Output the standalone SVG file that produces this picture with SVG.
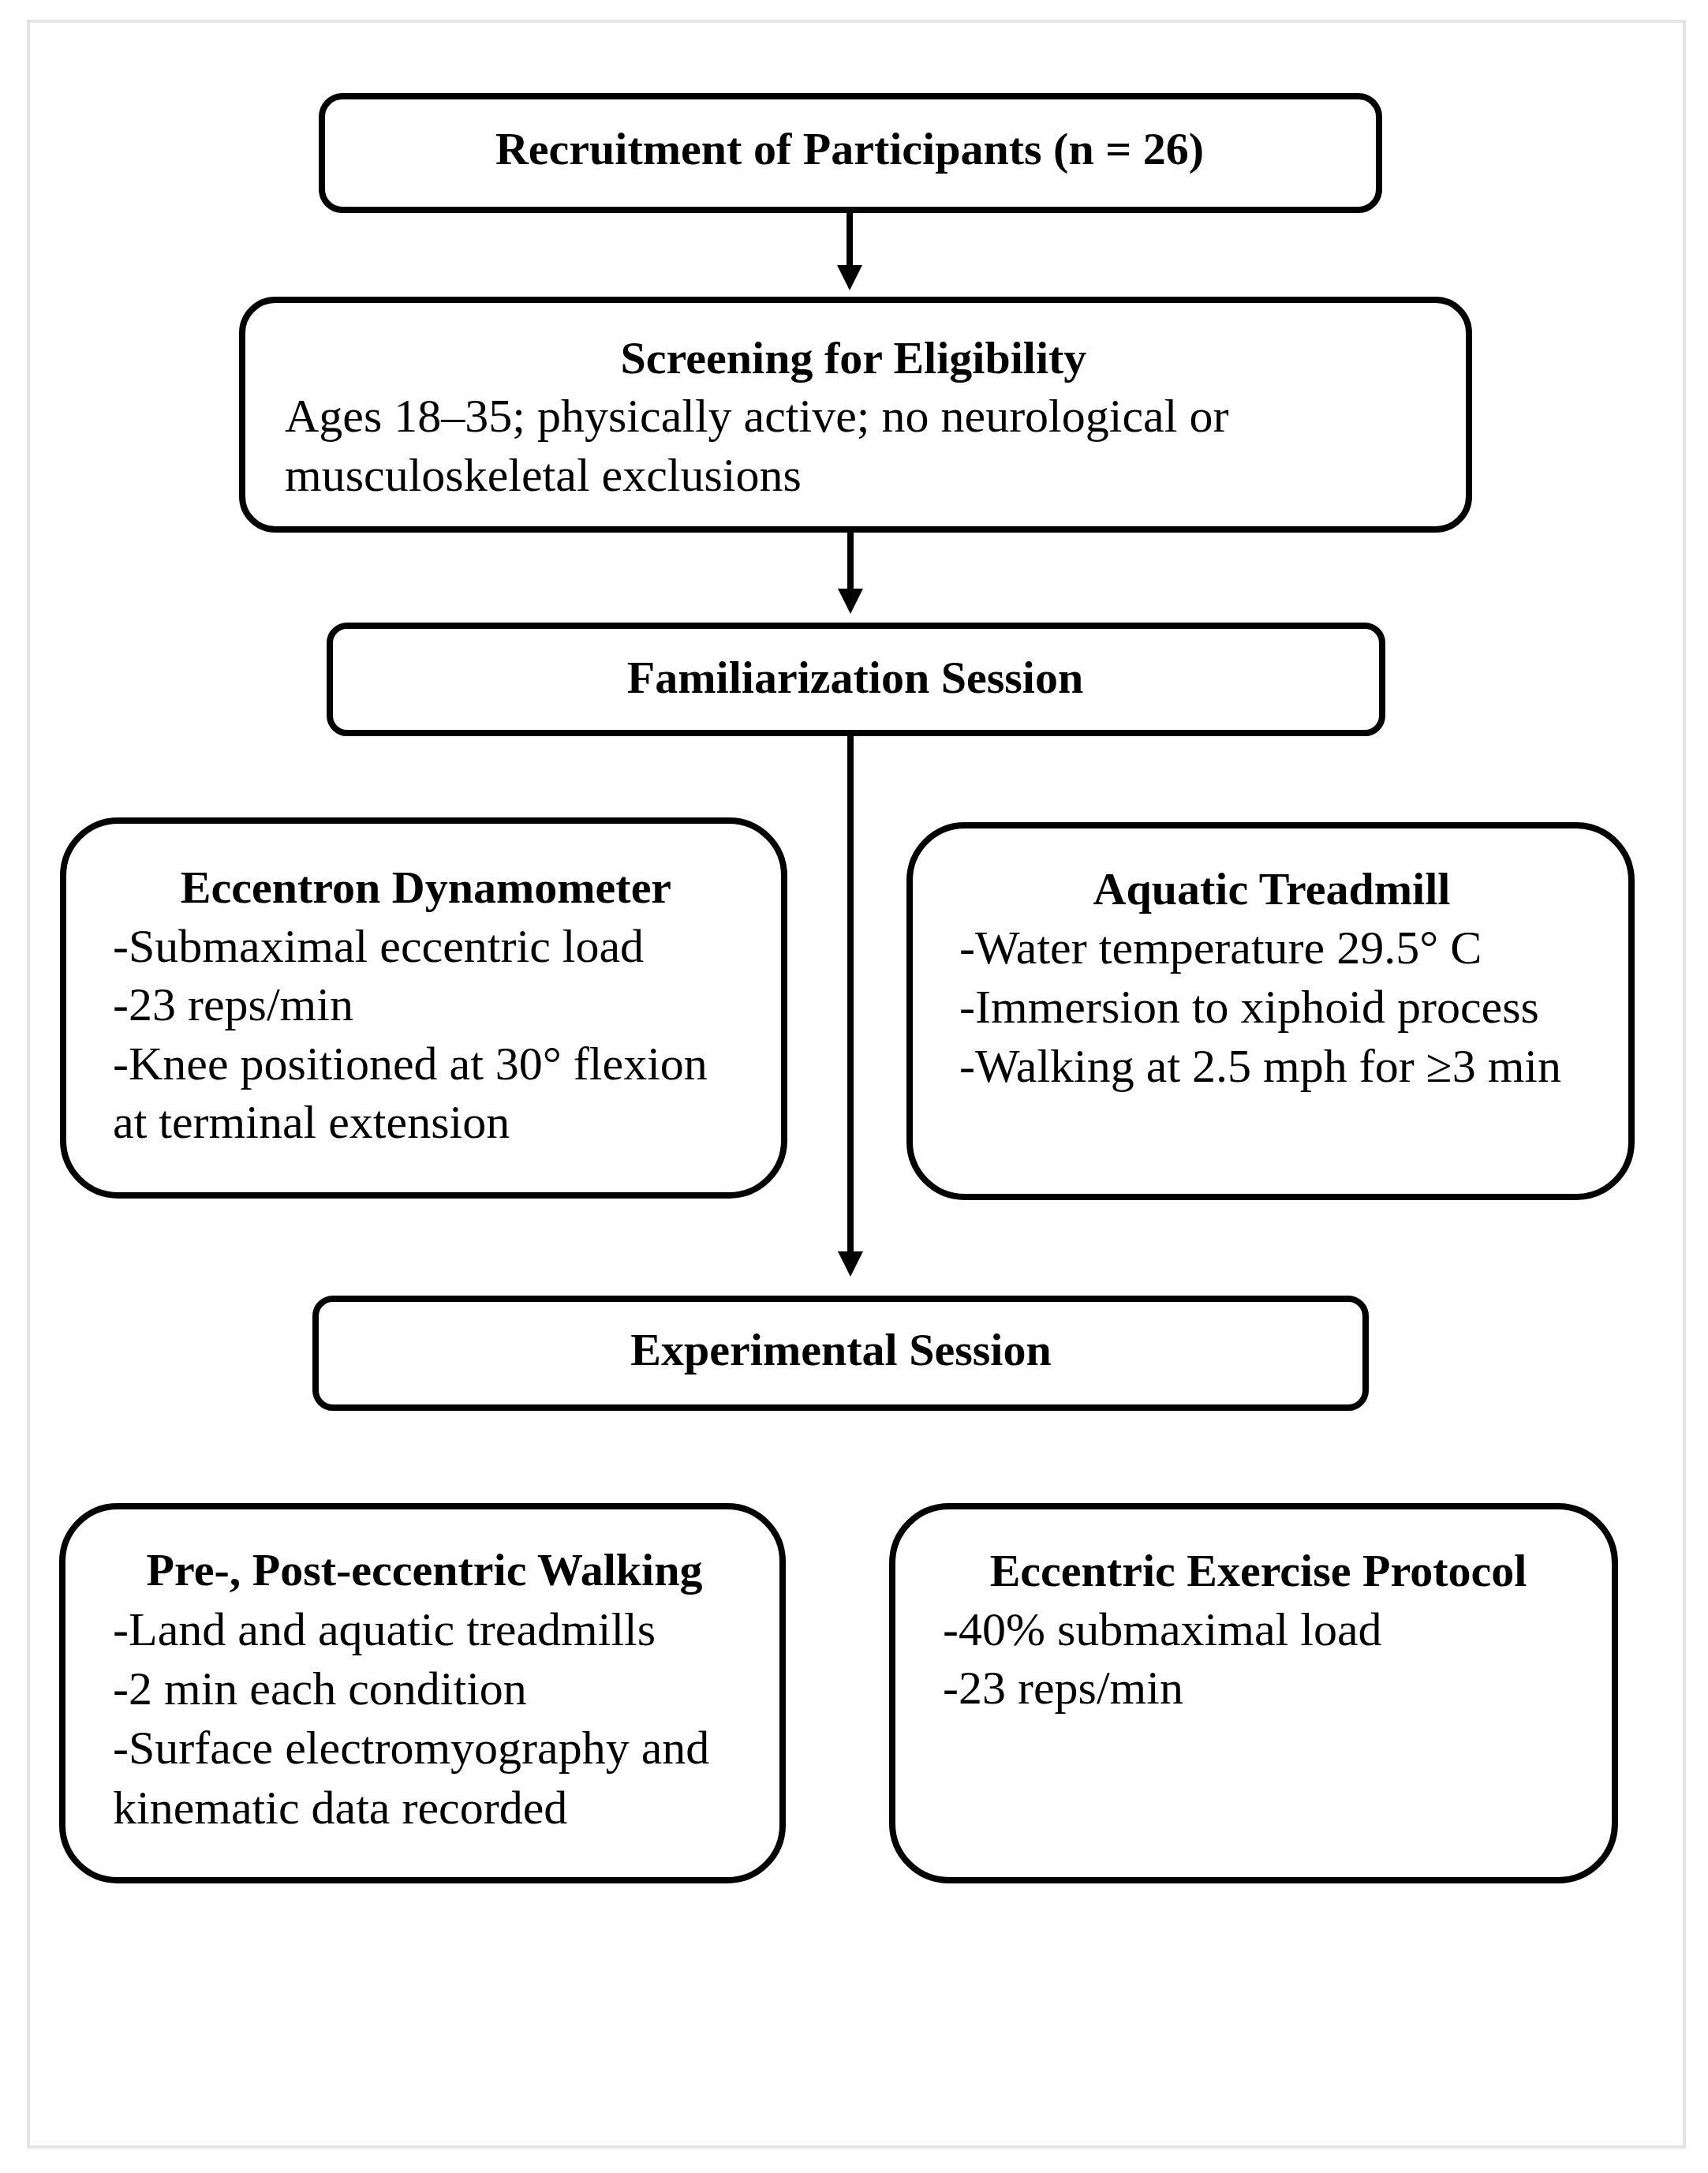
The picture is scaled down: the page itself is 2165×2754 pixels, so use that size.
<svg xmlns="http://www.w3.org/2000/svg" width="2165" height="2754" viewBox="0 0 2165 2754">
  <style>
    .box { fill: #ffffff; stroke: #000000; stroke-width: 8; }
    .t { font-family: "Liberation Serif", "Times New Roman", serif; font-size: 60px; fill: #000000; }
    .h { font-family: "Liberation Serif", "Times New Roman", serif; font-size: 58px; font-weight: bold; fill: #000000; text-anchor: middle; }
    .conn { stroke: #000000; stroke-width: 8; fill: none; marker-end: url(#arrow); }
  </style>
  <defs>
    <marker id="arrow" markerUnits="userSpaceOnUse" markerWidth="32" markerHeight="32" viewBox="0 0 32 32" refX="12" refY="16" orient="auto">
      <path d="M0,0 L32,16 L0,32 Z" fill="#000000"/>
    </marker>
  </defs>
  <rect x="0" y="0" width="2165" height="2754" fill="#ffffff"/>
  <rect id="frame" x="36" y="27" width="2099" height="2694" fill="#ffffff" stroke="#e4e4e4" stroke-width="4"/>

  <g id="connectors">
    <line class="conn" x1="1077" y1="266" x2="1077" y2="348"/>
    <line class="conn" x1="1078" y1="671" x2="1078" y2="758"/>
    <line class="conn" x1="1078" y1="929" x2="1078" y2="1598"/>
  </g>

  <g id="recruitment">
    <rect class="box" x="408" y="122" width="1340" height="144" rx="26" ry="26"/>
    <text class="h" x="1077" y="208">Recruitment of Participants (n = 26)</text>
  </g>

  <g id="screening">
    <rect class="box" x="307" y="380" width="1555" height="291" rx="42" ry="42"/>
    <text class="h" x="1082" y="473">Screening for Eligibility</text>
    <text class="t" x="361" y="547">Ages 18–35; physically active; no neurological or</text>
    <text class="t" x="361" y="622">musculoskeletal exclusions</text>
  </g>

  <g id="familiarization">
    <rect class="box" x="418" y="793" width="1334" height="136" rx="22" ry="22"/>
    <text class="h" x="1084" y="878">Familiarization Session</text>
  </g>

  <g id="eccentron">
    <rect class="box" x="80" y="1040" width="914" height="475" rx="70" ry="70"/>
    <text class="h" x="540" y="1144">Eccentron Dynamometer</text>
    <text class="t" x="143" y="1219">-Submaximal eccentric load</text>
    <text class="t" x="143" y="1293">-23 reps/min</text>
    <text class="t" x="143" y="1368">-Knee positioned at 30° flexion</text>
    <text class="t" x="143" y="1442">at terminal extension</text>
  </g>

  <g id="aquatic">
    <rect class="box" x="1153" y="1046" width="915" height="471" rx="70" ry="70"/>
    <text class="h" x="1612" y="1146">Aquatic Treadmill</text>
    <text class="t" x="1216" y="1221">-Water temperature 29.5° C</text>
    <text class="t" x="1216" y="1296">-Immersion to xiphoid process</text>
    <text class="t" x="1216" y="1371">-Walking at 2.5 mph for ≥3 min</text>
  </g>

  <g id="experimental">
    <rect class="box" x="400" y="1646" width="1331" height="138" rx="22" ry="22"/>
    <text class="h" x="1066" y="1730">Experimental Session</text>
  </g>

  <g id="walking">
    <rect class="box" x="79" y="1909" width="913" height="474" rx="70" ry="70"/>
    <text class="h" x="538" y="2009">Pre-, Post-eccentric Walking</text>
    <text class="t" x="143" y="2085">-Land and aquatic treadmills</text>
    <text class="t" x="143" y="2160">-2 min each condition</text>
    <text class="t" x="143" y="2235">-Surface electromyography and</text>
    <text class="t" x="143" y="2311">kinematic data recorded</text>
  </g>

  <g id="protocol">
    <rect class="box" x="1131" y="1909" width="916" height="474" rx="72" ry="72"/>
    <text class="h" x="1595" y="2010">Eccentric Exercise Protocol</text>
    <text class="t" x="1195" y="2085">-40% submaximal load</text>
    <text class="t" x="1195" y="2159">-23 reps/min</text>
  </g>
</svg>
